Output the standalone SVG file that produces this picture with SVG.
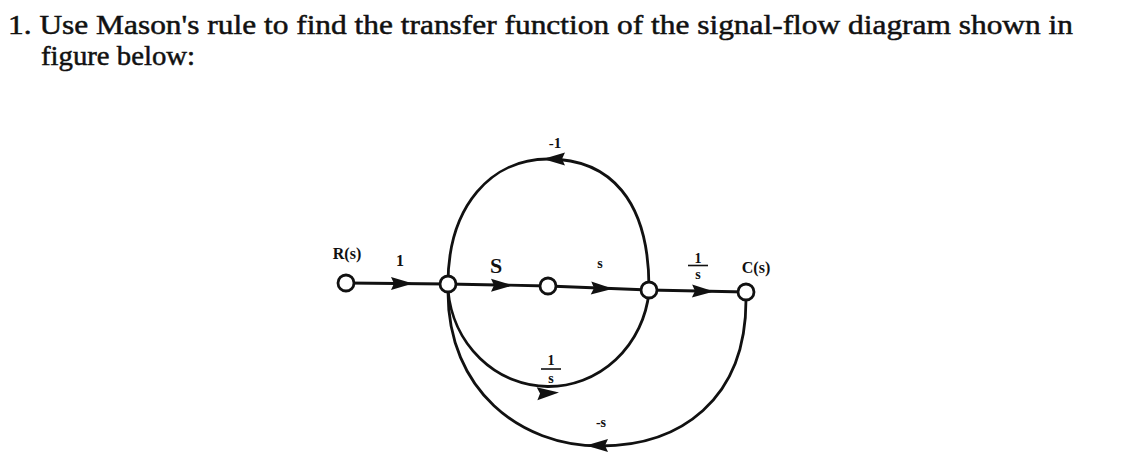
<svg xmlns="http://www.w3.org/2000/svg" xmlns:xlink="http://www.w3.org/1999/xlink" width="1141" height="466" viewBox="0 0 1141 466">
<style>
.title{font-family:"Liberation Serif","Times New Roman",serif;font-size:28px;fill:#111;stroke:#111;stroke-width:0.5;}
.lbl{font-family:"Liberation Serif","Times New Roman",serif;font-weight:bold;fill:#111;text-anchor:middle;}
.edge{fill:none;stroke:#111;stroke-width:2.8;}
.node{fill:#fff;stroke:#111;stroke-width:2.8;}
.ah{fill:#111;}
.bar{stroke:#111;stroke-width:1.6;}
</style>
<defs>
<path id="ah" d="M0,0 L-22,-6.5 L-19,0 L-22,6.5 Z"/>
</defs>
<rect width="1141" height="466" fill="#fff"/>
<text class="title" x="8" y="34" textLength="1065" lengthAdjust="spacingAndGlyphs">1. Use Mason's rule to find the transfer function of the signal-flow diagram shown in</text>
<text class="title" x="41" y="65" textLength="154" lengthAdjust="spacingAndGlyphs">figure below:</text>

<g id="connectors">
<line class="edge" x1="346" y1="283" x2="448" y2="284"/>
<line class="edge" x1="448" y1="284" x2="548" y2="286"/>
<line class="edge" x1="548" y1="286" x2="649" y2="290"/>
<line class="edge" x1="649" y1="290" x2="746" y2="292"/>
<path class="edge" d="M649,288 C649,200 610,159 548,159 C492,159 448,205 448,284"/>
<path class="edge" d="M448,290 A101,106 0 0 0 649,292"/>
<path class="edge" d="M746,300 C746,400 680,446 600,446 C520,446 448,390 448,292"/>
<g class="ah">
<use xlink:href="#ah" transform="translate(413,283.6)"/>
<use xlink:href="#ah" transform="translate(513,285.3)"/>
<use xlink:href="#ah" transform="translate(613,288.8) rotate(2.3)"/>
<use xlink:href="#ah" transform="translate(714,291.4) rotate(1.2)"/>
<use xlink:href="#ah" transform="translate(543,159) rotate(180)"/>
<use xlink:href="#ah" transform="translate(559,392.5) rotate(-3)"/>
<use xlink:href="#ah" transform="translate(586,445.5) rotate(180)"/>
</g>
</g>

<g id="label-minus1"><text class="lbl" x="555" y="148" font-size="15">-1</text></g>
<g id="label-inner"><text class="lbl" x="551" y="365" font-size="14">1</text><line class="bar" x1="541" y1="369" x2="561" y2="369"/><text class="lbl" x="551" y="383" font-size="14">s</text></g>
<g id="label-minus-s"><text class="lbl" x="601" y="427" font-size="14">-s</text></g>
<g id="label-1"><text class="lbl" x="400" y="266" font-size="16">1</text></g>
<g id="label-S"><text class="lbl" x="496" y="273" font-size="22">S</text></g>
<g id="label-s"><text class="lbl" x="600" y="268" font-size="14">s</text></g>
<g id="label-out"><text class="lbl" x="698" y="263" font-size="14">1</text><line class="bar" x1="688" y1="265.5" x2="708" y2="265.5"/><text class="lbl" x="698" y="279" font-size="14">s</text></g>

<g id="node-R"><circle class="node" cx="346" cy="283" r="8"/><text class="lbl" x="347" y="259" font-size="16" font-weight="normal">R(s)</text></g>
<g id="node-2"><circle class="node" cx="448" cy="284" r="8"/></g>
<g id="node-3"><circle class="node" cx="548" cy="286" r="8"/></g>
<g id="node-4"><circle class="node" cx="649" cy="290" r="8"/></g>
<g id="node-C"><circle class="node" cx="746" cy="292" r="8"/><text class="lbl" x="756" y="273" font-size="16">C(s)</text></g>
</svg>
